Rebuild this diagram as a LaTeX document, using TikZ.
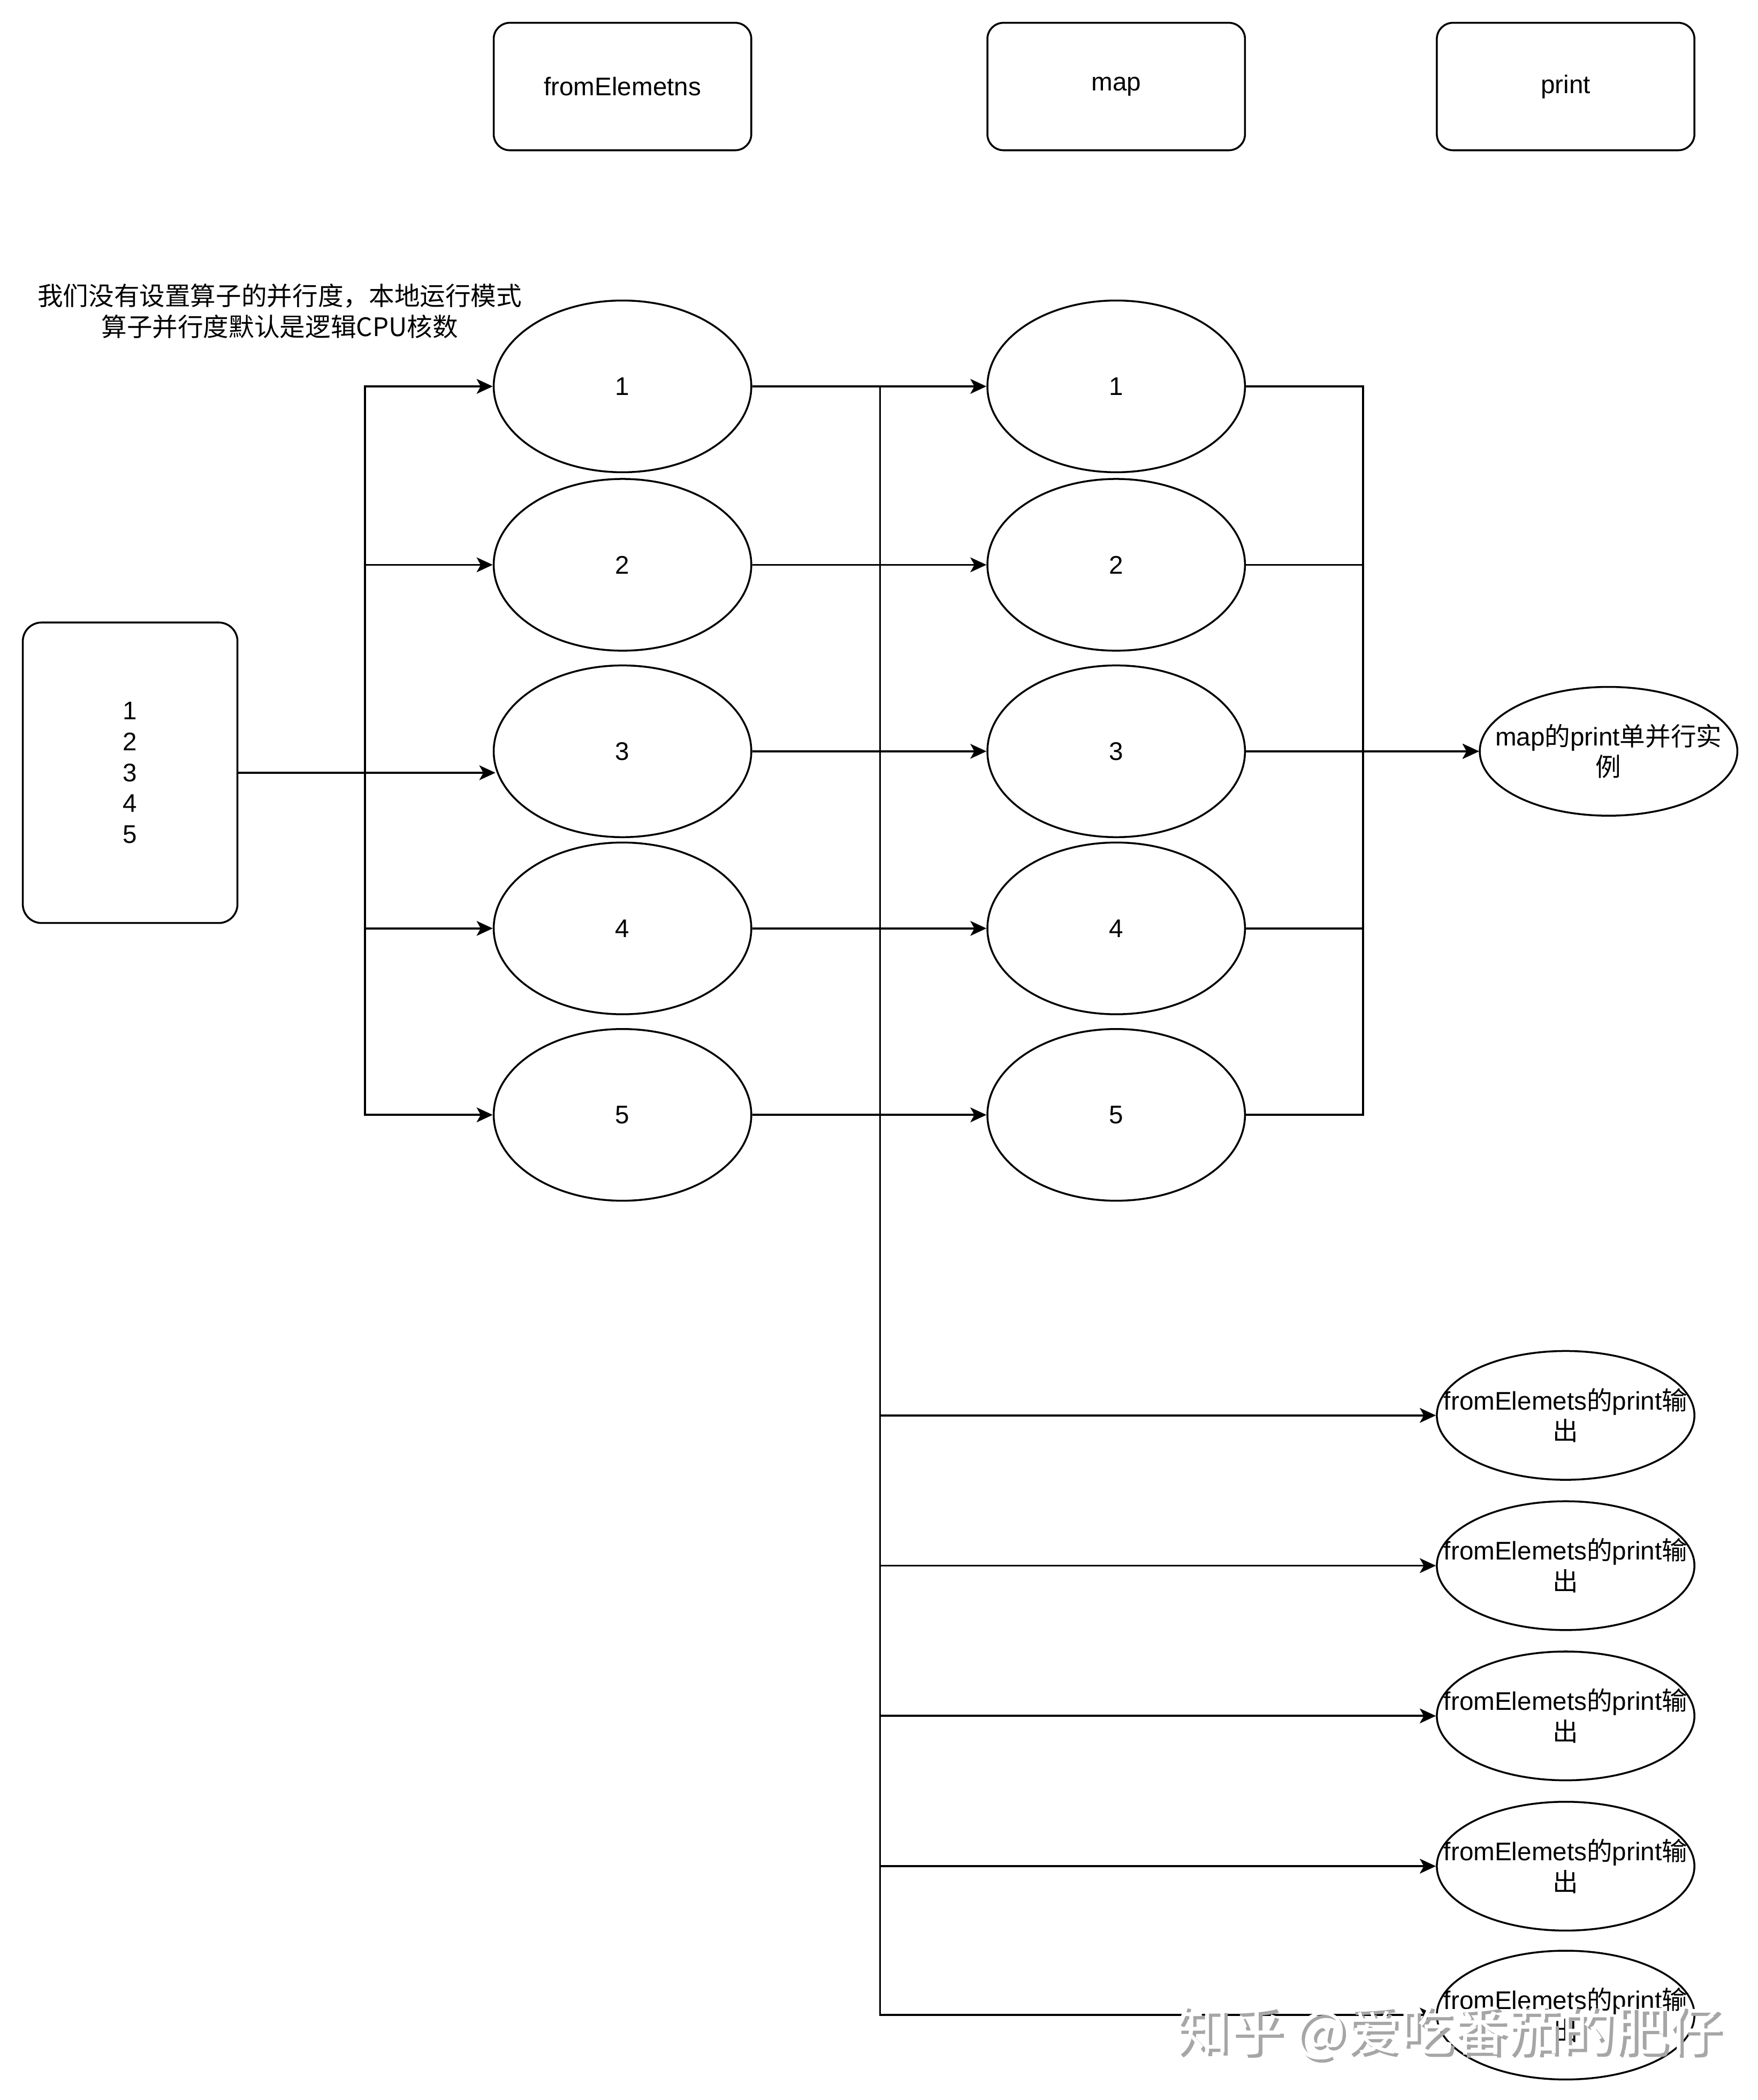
\documentclass[tikz,border=0pt]{standalone}
\usepackage{fontspec}
\setmainfont{Liberation Sans}
\newfontfamily\cjk{Noto Sans CJK SC}
\usetikzlibrary{shapes.geometric,arrows.meta,calc}
\begin{document}
\begin{tikzpicture}[x=1pt,y=-1pt,
  base/.style={draw=black, line width=1.4pt, inner sep=0pt, font=\fontsize{19}{23}\selectfont, align=center},
  rbox/.style={base, rectangle, rounded corners=12pt, minimum width=192pt, minimum height=95pt},
  bigell/.style={base, ellipse, minimum width=192pt, minimum height=128pt},
  smell/.style={base, ellipse, minimum width=192pt, minimum height=96pt},
  txt/.style={inner sep=0pt, font=\fontsize{19}{23}\selectfont, align=center},
  arr/.style={line width=1.5pt, -{Stealth[length=12pt,width=11pt,inset=3pt]}},
  ln/.style={line width=1.5pt},
  wmark/.style={inner sep=0pt, font=\cjk\fontsize{40}{44}\selectfont}
]
\useasboundingbox (0,0) rectangle (1310,1565.3);
\fill[white] (0,0) rectangle (1310,1565.3);

% header boxes
\node[rbox] (hfrom) at (464,64.5) {fromElemetns};
\node[rbox] (hmap) at (832,64.5) {map};
\node[rbox] (hprint) at (1167,64.5) {print};

% annotation
\node[txt] (note) at (208.5,232) {{\cjk 我们没有设置算子的并行度，本地运行模式}\\{\cjk 算子并行度默认是逻辑CPU核数}};

% source box
\node[base, rectangle, rounded corners=14pt, minimum width=160pt, minimum height=224pt] (src) at (97,576) {1\\2\\3\\4\\5};

% fromElements instances
\node[bigell] (a1) at (464,288) {1};
\node[bigell] (a2) at (464,421) {2};
\node[bigell] (a3) at (464,560) {3};
\node[bigell] (a4) at (464,692) {4};
\node[bigell] (a5) at (464,831) {5};

% map instances
\node[bigell] (b1) at (832,288) {1};
\node[bigell] (b2) at (832,421) {2};
\node[bigell] (b3) at (832,560) {3};
\node[bigell] (b4) at (832,692) {4};
\node[bigell] (b5) at (832,831) {5};

% map print
\node[smell, label={[txt]center:map{\cjk 的}print{\cjk 单并行实}\\{\cjk 例}}] (mp) at (1199,560) {};

% fromElements print outputs
\foreach \i/\y in {1/1055,2/1167,3/1279,4/1391,5/1502}{
  \node[smell, label={[txt]center:fromElemets{\cjk 的}print{\cjk 输}\\{\cjk 出}}] (o\i) at (1167,\y) {};
}

% bus coordinates
\coordinate (busA) at (272,0);
\coordinate (busB) at (656,0);
\coordinate (busC) at (1016,0);

% source -> fromElements
\foreach \i in {1,2,4,5}{
  \draw[arr] (src.east) -- (src.east -| busA) |- (a\i.west);
}
\draw[arr] (src.east) -- ([xshift=2pt]src.east -| a3.west);

% fromElements -> map
\foreach \i in {1,...,5}{
  \draw[arr] (a\i.east) -- (b\i.west);
}

% fromElements -> print outputs
\foreach \i in {1,...,5}{
  \draw[arr] (a1.east) -- (a1.east -| busB) |- (o\i.west);
}

% map -> map print
\foreach \i in {1,2,4,5}{
  \draw[arr] (b\i.east) -- (b\i.east -| busC) |- (mp.west);
}
\draw[arr] (b3.east) -- (mp.west);

% watermark
\coordinate (wm) at (1080,1515);
\node[wmark, text=black!35] at ([shift={(2.5,2.5)}]wm) {知乎 @爱吃番茄的肥仔};
\node[wmark, text=white] at (wm) {知乎 @爱吃番茄的肥仔};
\end{tikzpicture}
\end{document}
